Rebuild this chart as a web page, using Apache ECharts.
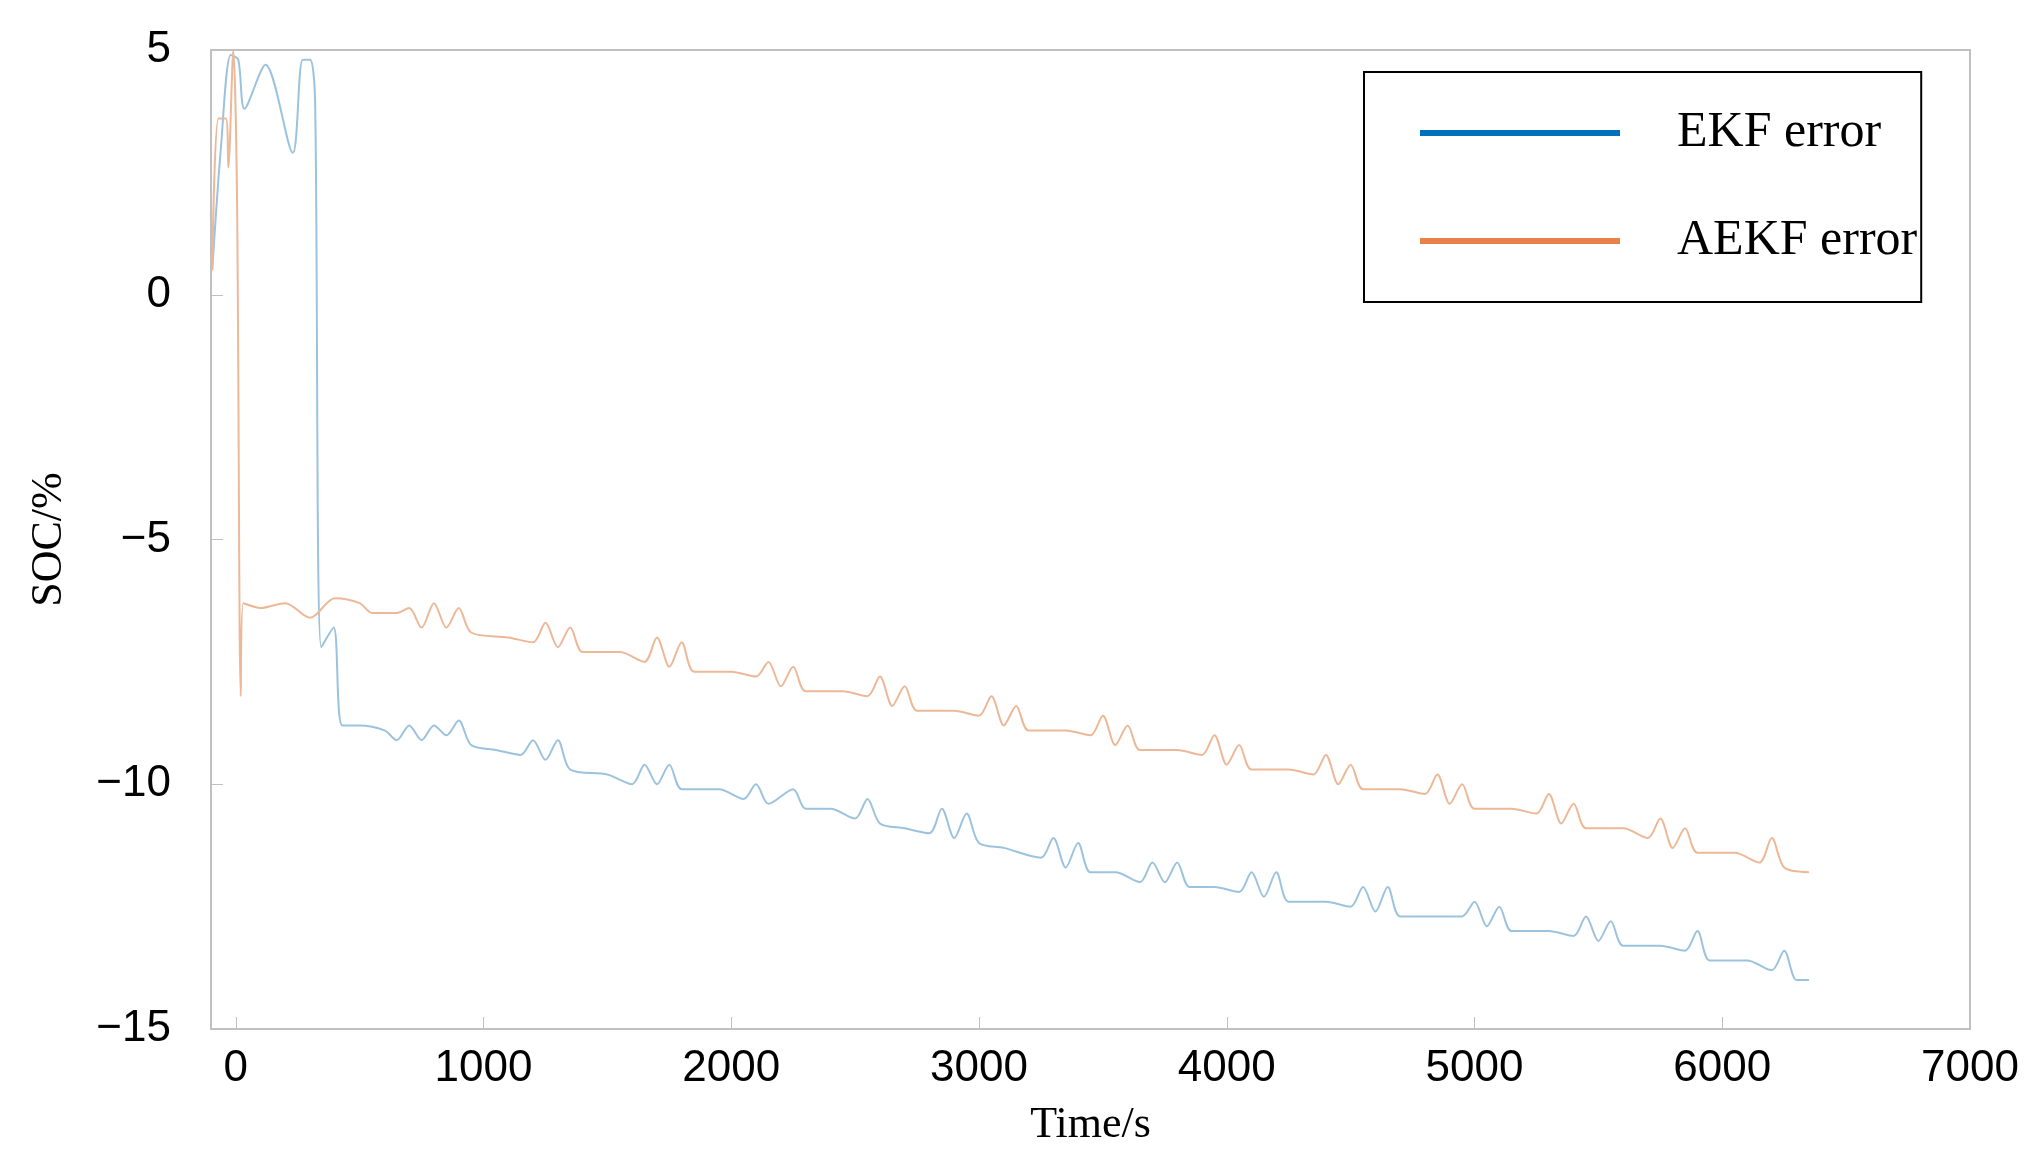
<!DOCTYPE html><html><head><meta charset="utf-8"><script src="https://cdn.jsdelivr.net/npm/echarts@6/dist/echarts.min.js"></script></head><body style="margin:0;background:#fff"><div id="c" style="width:2033px;height:1155px"></div><script>
const ekf=[[-95,0.5],[-60,3],[-20,4.9],[10,4.8],[35,3.8],[120,4.7],[230,2.9],[270,4.8],[300,4.8],[320,4],[345,-7.2],[395,-6.8],[430,-8.8],[500,-8.8],[600,-8.9],[650,-9.1],[700,-8.8],[750,-9.1],[800,-8.8],[850,-9.0],[900,-8.7],[950,-9.2],[1050,-9.3],[1150,-9.4],[1200,-9.1],[1250,-9.5],[1300,-9.1],[1350,-9.7],[1500,-9.8],[1600,-10.0],[1650,-9.6],[1700,-10.0],[1750,-9.6],[1800,-10.1],[1950,-10.1],[2050,-10.3],[2100,-10.0],[2150,-10.4],[2250,-10.1],[2300,-10.5],[2400,-10.5],[2500,-10.7],[2550,-10.3],[2600,-10.8],[2700,-10.9],[2800,-11.0],[2850,-10.5],[2900,-11.1],[2950,-10.6],[3000,-11.2],[3100,-11.3],[3250,-11.5],[3300,-11.1],[3350,-11.7],[3400,-11.2],[3450,-11.8],[3550,-11.8],[3650,-12.0],[3700,-11.6],[3750,-12.0],[3800,-11.6],[3850,-12.1],[3950,-12.1],[4050,-12.2],[4100,-11.8],[4150,-12.3],[4200,-11.8],[4250,-12.4],[4400,-12.4],[4500,-12.5],[4550,-12.1],[4600,-12.6],[4650,-12.1],[4700,-12.7],[4850,-12.7],[4950,-12.7],[5000,-12.4],[5050,-12.9],[5100,-12.5],[5150,-13.0],[5300,-13.0],[5400,-13.1],[5450,-12.7],[5500,-13.2],[5550,-12.8],[5600,-13.3],[5750,-13.3],[5850,-13.4],[5900,-13.0],[5950,-13.6],[6100,-13.6],[6200,-13.8],[6250,-13.4],[6300,-14.0],[6350,-14.0]];
const aekf=[[-95,0.5],[-70,3.6],[-40,3.6],[-30,2.6],[-10,5.0],[5,2],[20,-8.2],[30,-6.3],[100,-6.4],[200,-6.3],[300,-6.6],[400,-6.2],[500,-6.3],[550,-6.5],[650,-6.5],[700,-6.4],[750,-6.8],[800,-6.3],[850,-6.8],[900,-6.4],[950,-6.9],[1100,-7.0],[1200,-7.1],[1250,-6.7],[1300,-7.2],[1350,-6.8],[1400,-7.3],[1550,-7.3],[1650,-7.5],[1700,-7.0],[1750,-7.6],[1800,-7.1],[1850,-7.7],[2000,-7.7],[2100,-7.8],[2150,-7.5],[2200,-8.0],[2250,-7.6],[2300,-8.1],[2450,-8.1],[2550,-8.2],[2600,-7.8],[2650,-8.4],[2700,-8.0],[2750,-8.5],[2900,-8.5],[3000,-8.6],[3050,-8.2],[3100,-8.8],[3150,-8.4],[3200,-8.9],[3350,-8.9],[3450,-9.0],[3500,-8.6],[3550,-9.2],[3600,-8.8],[3650,-9.3],[3800,-9.3],[3900,-9.4],[3950,-9.0],[4000,-9.6],[4050,-9.2],[4100,-9.7],[4250,-9.7],[4350,-9.8],[4400,-9.4],[4450,-10.0],[4500,-9.6],[4550,-10.1],[4700,-10.1],[4800,-10.2],[4850,-9.8],[4900,-10.4],[4950,-10.0],[5000,-10.5],[5150,-10.5],[5250,-10.6],[5300,-10.2],[5350,-10.8],[5400,-10.4],[5450,-10.9],[5600,-10.9],[5700,-11.1],[5750,-10.7],[5800,-11.3],[5850,-10.9],[5900,-11.4],[6050,-11.4],[6150,-11.6],[6200,-11.1],[6250,-11.7],[6350,-11.8]];
const xTicks=[0,1000,2000,3000,4000,5000,6000,7000];
const yTicks=[-15,-10,-5,0,5];
const names=['EKF error','AEKF error'];
const serif='"Liberation Serif","DejaVu Serif",serif';
const ch=echarts.init(document.getElementById('c'));
const lab={fontFamily:'"Liberation Sans",Arial,sans-serif',fontSize:44,color:'#000',formatter:v=>v<0?'\u2212'+Math.abs(v):String(v)};
ch.setOption({animation:false,
grid:{left:211,right:63,top:50,bottom:126,show:true,borderColor:'#c0c0c0',borderWidth:2},
legend:{orient:'vertical',left:1364,top:72,backgroundColor:'#fff',borderColor:'#000',borderWidth:2,padding:[36,4,36,56],itemWidth:200,itemHeight:6,itemGap:58,
 textStyle:{fontFamily:serif,fontSize:50,color:'#000',padding:[0,0,0,52]},
 data:[{name:names[0],icon:'rect',itemStyle:{color:'#0072bd'}},{name:names[1],icon:'rect',itemStyle:{color:'#e8824a'}}]},
xAxis:{type:'value',min:-100,max:7000,name:'Time/s',nameLocation:'middle',nameGap:74,nameTextStyle:{fontFamily:serif,fontSize:44,color:'#000'},
 axisLine:{show:false,onZero:false},splitLine:{show:false},axisTick:{inside:true,length:12,lineStyle:{color:'#c0c0c0'},customValues:xTicks},
 axisLabel:{...lab,margin:18,customValues:xTicks,formatter:v=>String(v)}},
yAxis:{type:'value',min:-15,max:5,interval:5,name:'SOC/%',nameLocation:'middle',nameGap:140,nameTextStyle:{fontFamily:serif,fontSize:44,color:'#000'},
 axisLine:{show:false,onZero:false},splitLine:{show:false},axisTick:{inside:true,length:12,lineStyle:{color:'#c0c0c0'}},axisLabel:{...lab,margin:40}},
series:[
 {name:names[0],type:'line',data:ekf,showSymbol:false,smooth:0.3,lineStyle:{color:'#9cc3de',width:2},itemStyle:{color:'#0072bd'}},
 {name:names[1],type:'line',data:aekf,showSymbol:false,smooth:0.3,lineStyle:{color:'#ecb898',width:2},itemStyle:{color:'#e8824a'}}
]});
</script></body></html>
